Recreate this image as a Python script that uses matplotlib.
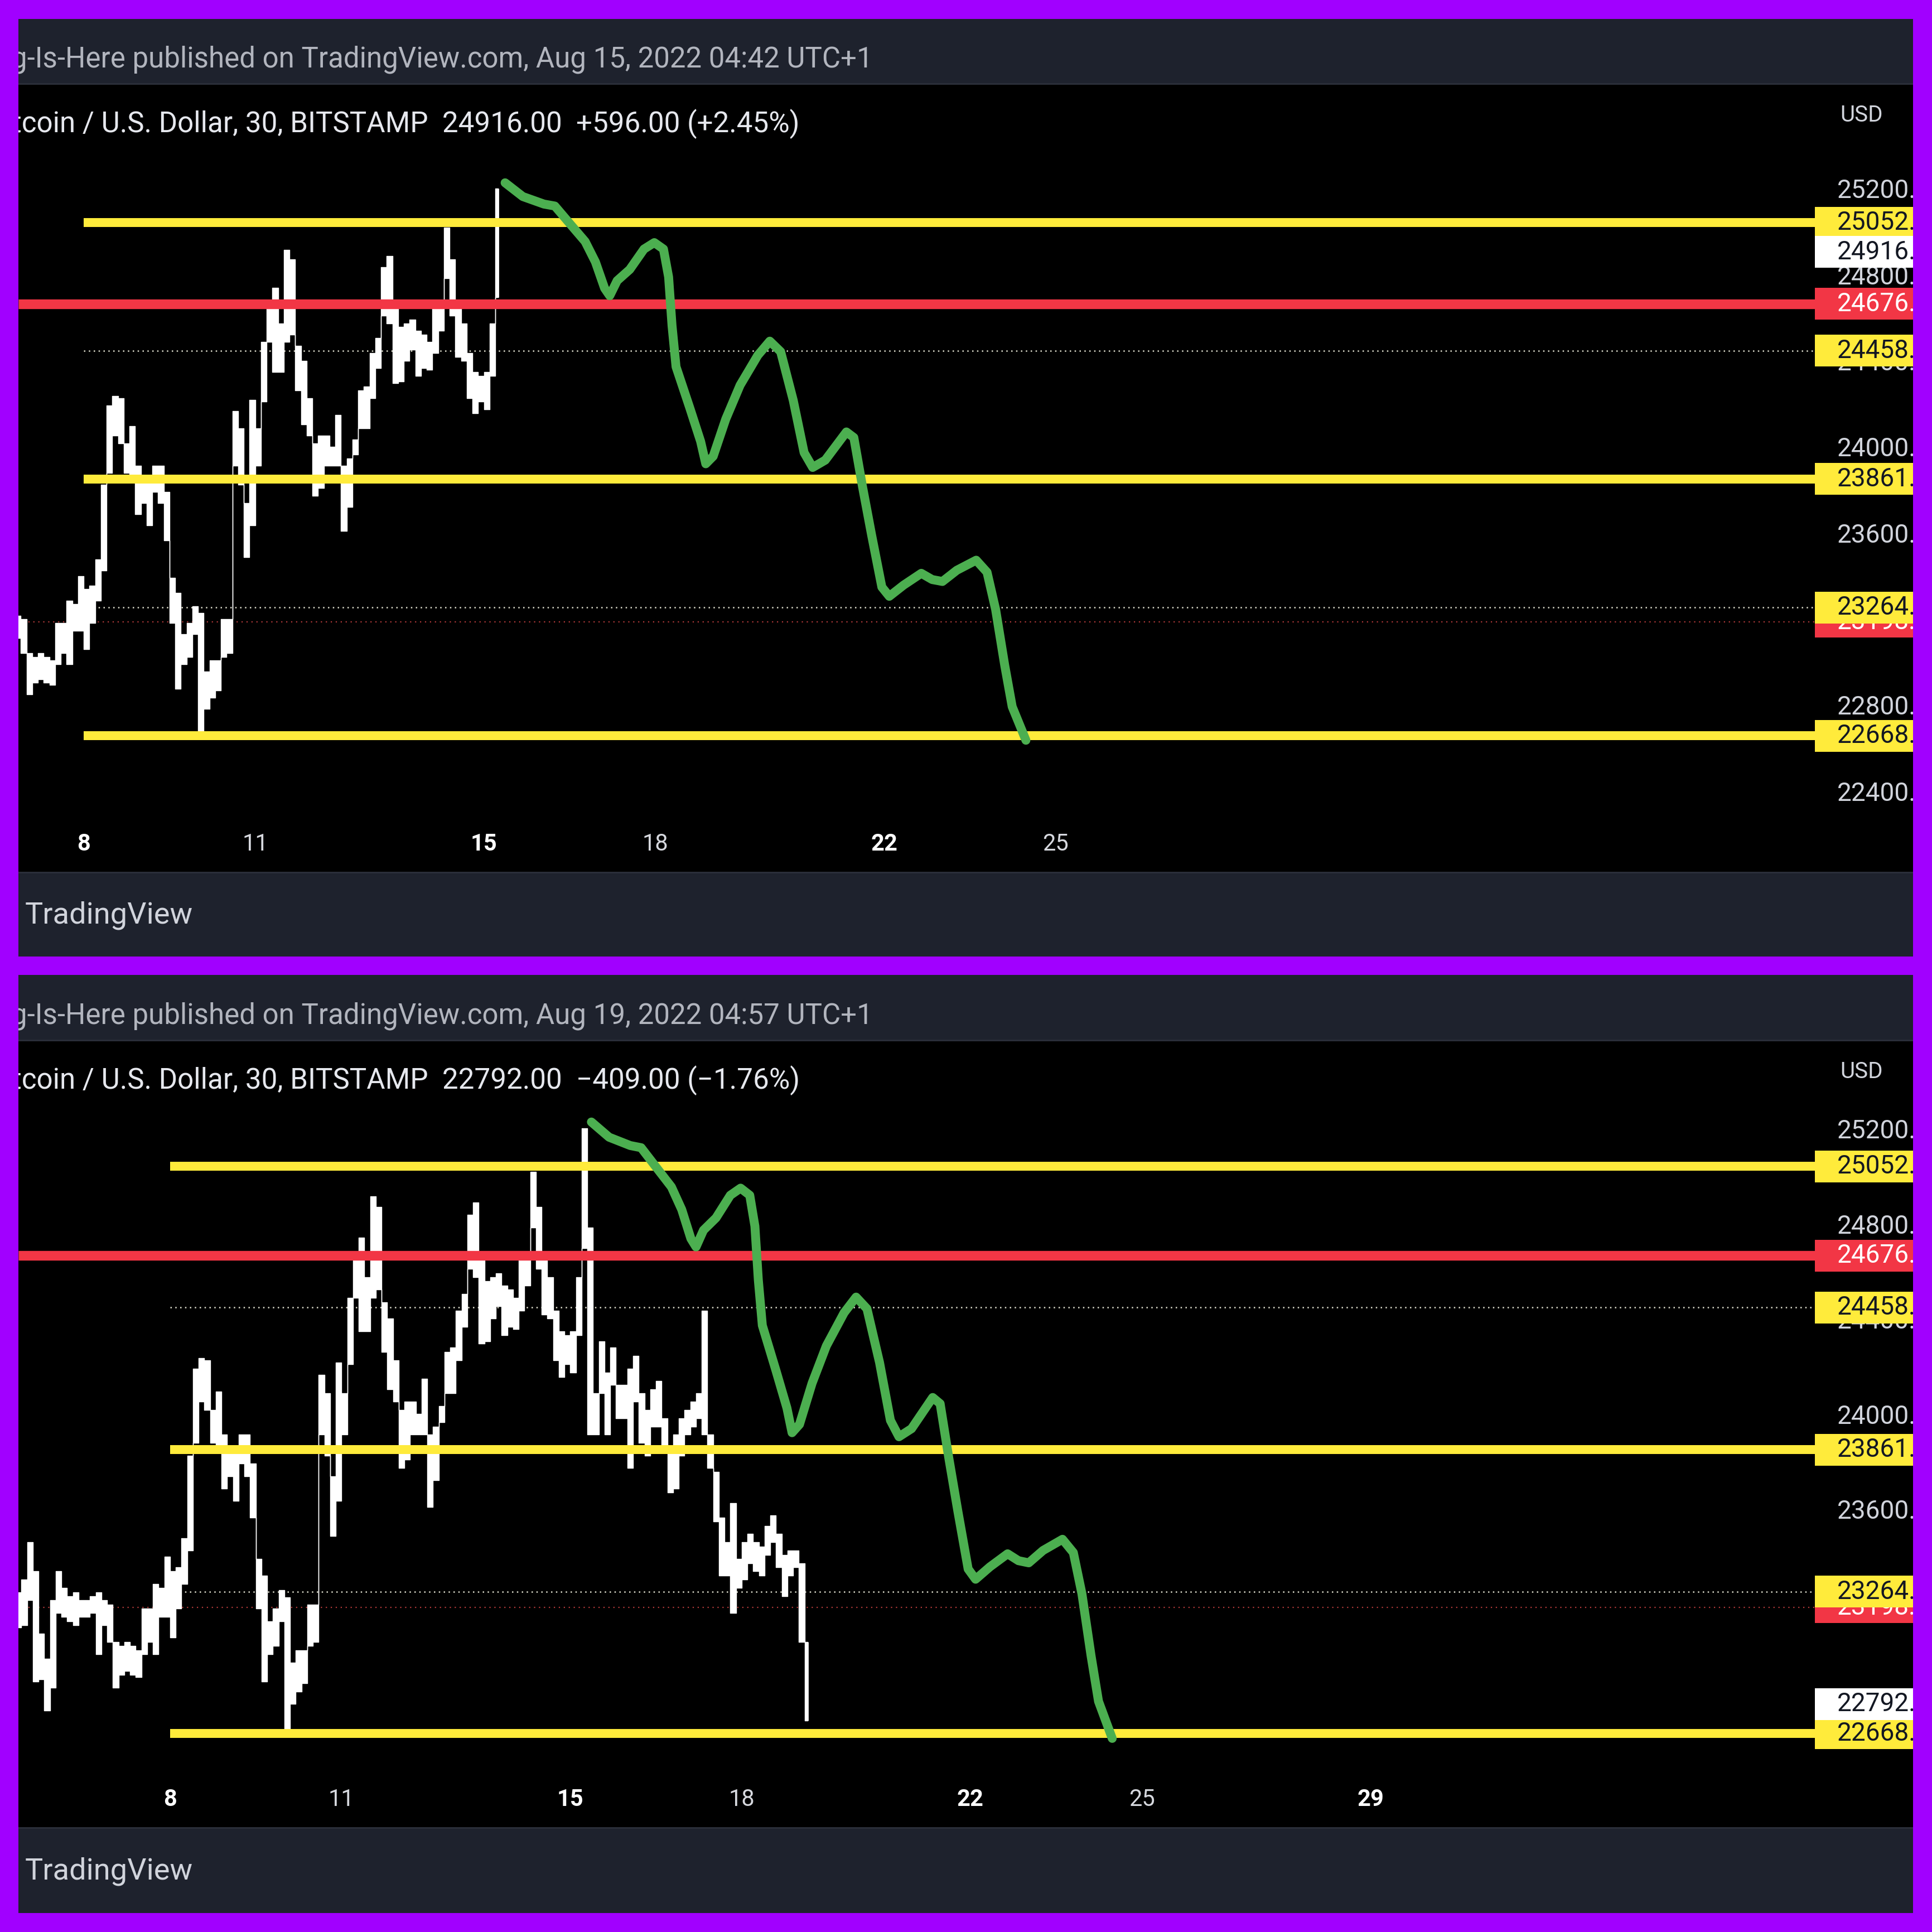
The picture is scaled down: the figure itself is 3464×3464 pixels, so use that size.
import numpy as np
import matplotlib
matplotlib.use("Agg")
import matplotlib.pyplot as plt
from matplotlib.patches import Rectangle
import matplotlib.transforms as mtransforms

# ---------------- data ----------------
# BTC/USD 30m chart, sampled every 0.1 day: highs / lows of the candle band
candle_t0 = 5.35
candle_dt = 0.1
candle_high = [23262, 23314, 23471, 23349, 23088, 22983, 23227, 23349, 23279, 23244,
               23262, 23227, 23227, 23244, 23262, 23227, 23210, 23053, 23035, 23053,
               23035, 23018, 23192, 23192, 23297, 23279, 23410, 23349, 23366, 23488,
               23836, 24202, 24246, 24237, 24028, 24106, 23924, 23871, 23871, 23924,
               23924, 23802, 23401, 23331, 23140, 23192, 23270, 23240, 22966, 23018,
               23018, 23210, 23210, 24176, 24098, 23749, 24228, 24098, 24498, 24655,
               24751, 24585, 24925, 24881, 24481, 24411, 24237, 24028, 24063, 24063,
               24011, 24158, 23924, 23958, 24045, 24272, 24290, 24446, 24516, 24847,
               24899, 24655, 24568, 24585, 24603, 24550, 24533, 24498, 24655, 24672,
               25029, 24881, 24655, 24585, 24446, 24359, 24341, 24359, 24585, 25212,
               24794, 24098, 24315, 24185, 24289, 24132, 24132, 24202, 24254, 24098,
               24028, 24115, 24150, 23993, 23871, 23924, 23993, 24028, 24063, 24098,
               24446, 23924, 23767, 23575, 23471, 23636, 23401, 23471, 23506, 23471,
               23453, 23540, 23584, 23506, 23419, 23436, 23436, 23384, 23053]
candle_low = [23114, 23122, 23227, 22887, 22896, 22765, 22861, 23175, 23157, 23140,
              23122, 23157, 23157, 23175, 23001, 23122, 23053, 22861, 22914, 22931,
              22914, 22905, 23001, 23053, 23001, 23157, 23157, 23070, 23192, 23297,
              23436, 23889, 24063, 24028, 23889, 23871, 23697, 23749, 23645, 23802,
              23749, 23575, 23192, 22887, 23001, 23035, 23140, 22670, 22792, 22844,
              22879, 23035, 23053, 23924, 23836, 23497, 23645, 23924, 24220, 24498,
              24359, 24359, 24498, 24533, 24272, 24115, 24063, 23784, 23819, 23924,
              23924, 23924, 23619, 23732, 23976, 24098, 24098, 24237, 24376, 24620,
              24585, 24307, 24315, 24411, 24463, 24341, 24376, 24368, 24446, 24550,
              24794, 24620, 24429, 24411, 24237, 24167, 24220, 24185, 24341, 24707,
              23924, 23924, 24098, 23924, 24132, 23993, 23993, 23784, 24063, 23889,
              23836, 23958, 23958, 23854, 23680, 23697, 23836, 23924, 23958, 23993,
              23924, 23784, 23558, 23331, 23331, 23175, 23279, 23314, 23384, 23349,
              23331, 23419, 23471, 23366, 23244, 23331, 23366, 23053, 22722]

# hand-drawn green projection (day of Aug, price)
green_days = [15.37, 15.68, 16.05, 16.24, 16.49, 16.77, 16.95, 17.11, 17.20, 17.33,
              17.55, 17.80, 17.98, 18.14, 18.23, 18.29, 18.36, 18.60, 18.79, 18.88,
              19.01, 19.23, 19.48, 19.79, 20.00, 20.19, 20.41, 20.60, 20.75, 20.97,
              21.34, 21.47, 21.62, 21.78, 21.96, 22.09, 22.34, 22.65, 22.84, 23.02,
              23.27, 23.61, 23.80, 23.95, 24.11, 24.24, 24.48]
green_prices = [25238, 25174, 25139, 25130, 25052, 24965, 24870, 24748, 24713, 24783,
                24835, 24930, 24960, 24930, 24800, 24574, 24383, 24192, 24036, 23932,
                23967, 24140, 24297, 24436, 24502, 24453, 24227, 23984, 23915, 23949,
                24080, 24054, 23828, 23602, 23359, 23316, 23368, 23423, 23394, 23385,
                23437, 23484, 23428, 23255, 22994, 22803, 22647]

yellow_levels = [25052, 23861, 22668]
red_levels = [24676]
dotted_yellow_levels = [24458, 23264]
dotted_red_levels = [23198]
level_start_day = 8

panel1_ticks = [25200, 24800, 24400, 24000, 23600, 23200, 22800, 22400]
panel2_ticks = [25200, 24800, 24400, 24000, 23600, 23200, 22800]
panel1_days = [8, 11, 15, 18, 22, 25]
panel2_days = [8, 11, 15, 18, 22, 25, 29]
bold_days = [8, 15, 22, 29]
panel1_last = 24916
panel2_last = 22792
panel1_end_day = 15.26

headers = ["g-Is-Here published on TradingView.com, Aug 15, 2022 04:42 UTC+1",
           "g-Is-Here published on TradingView.com, Aug 19, 2022 04:57 UTC+1"]
titles = ["tcoin / U.S. Dollar, 30, BITSTAMP  24916.00  +596.00 (+2.45%)",
          "tcoin / U.S. Dollar, 30, BITSTAMP  22792.00  \u2212409.00 (\u22121.76%)"]

# ---------------- styling / layout ----------------
W = H = 3464
PURPLE = "#a100ff"
DARK = "#1e222d"
SEP = "#2a2e39"
YELLOW = "#ffeb3b"
RED = "#f23645"
GREEN = "#4caf50"
TXT = "#d1d4dc"
FONT = ["Roboto", "DejaVu Sans"]

fig = plt.figure(figsize=(W / 100, H / 100), dpi=100, facecolor=PURPLE)


def frect(x0, y0, x1, y1, color, z):
    fig.add_artist(Rectangle((x0 / W, 1 - y1 / H), (x1 - x0) / W, (y1 - y0) / H,
                             transform=fig.transFigure, facecolor=color,
                             edgecolor="none", lw=0, zorder=z))


def ftext(x, y, s, **kw):
    fig.text(x / W, 1 - y / H, s, family=FONT, **kw)


PL, PR = 33, 3430          # panel left/right pixel
AX_R = 3254                # plot right edge (price scale starts)

panels = [
    dict(header=(34, 152), chart=(152, 1563), footer=(1563, 1715), ax=(152, 1460),
         ylim=(22303, 25693.5), xlim=(6.857, 38.28), ticks=panel1_ticks,
         days=panel1_days, last=panel1_last, end=panel1_end_day,
         head=headers[0], title=titles[0], tlab=1509),
    dict(header=(1748, 1867), chart=(1867, 3276), footer=(3276, 3430), ax=(1867, 3175),
         ylim=(22510.8, 25577.2), xlim=(5.348, 36.77), ticks=panel2_ticks,
         days=panel2_days, last=panel2_last, end=99,
         head=headers[1], title=titles[1], tlab=3223),
]

t_all = np.round(candle_t0 + candle_dt * np.arange(len(candle_high)), 3)
hi_all = np.array(candle_high, float)
lo_all = np.array(candle_low, float)

for P in panels:
    h0, h1 = P["header"]
    c0, c1 = P["chart"]
    f0, f1 = P["footer"]
    frect(PL, h0, PR, h1, DARK, -2)
    frect(PL, c0, PR, c1, "#000000", -2)
    frect(PL, f0, PR, f1, DARK, -2)
    frect(PL, h1 - 3, PR, h1, SEP, -1.5)
    frect(PL, f0, PR, f0 + 3, SEP, -1.5)

    ftext(20, (h0 + h1) / 2 + 14, P["head"], fontsize=36.7, color="#b2b5be", va="center", ha="left")
    ftext(22, c0 + 70, P["title"], fontsize=36.8, color="#e6e8ee", va="center", ha="left")
    ftext(3338, c0 + 54, "USD", fontsize=29, color=TXT, va="center", ha="center")
    ftext(45, (f0 + f1) / 2 + 2, "TradingView", fontsize=39, color="#d1d4dc", va="center", ha="left")

    a0, a1 = P["ax"]
    ax = fig.add_axes([PL / W, 1 - a1 / H, (AX_R - PL) / W, (a1 - a0) / H])
    ax.set_facecolor("none")
    for s in ax.spines.values():
        s.set_visible(False)
    ax.set_xticks([])
    ax.set_yticks([])
    ax.set_xlim(*P["xlim"])
    ax.set_ylim(*P["ylim"])
    ymin, ymax = P["ylim"]
    ax_h_px = a1 - a0
    ax_w_px = AX_R - PL
    xmin, xmax = P["xlim"]

    # levels
    for p in dotted_red_levels:
        ax.hlines(p, xmin, xmax, color="#b23a3a", lw=1.6, linestyles=(0, (1, 3)), zorder=1)
    for p in dotted_yellow_levels:
        ax.hlines(p, level_start_day, xmax, color="#dcdccc", lw=1.8, linestyles=(0, (1, 2.5)), zorder=1)

    # candle band: stepped body plus wicks
    m = t_all <= P["end"]
    tt, lo, hi = t_all[m], lo_all[m], hi_all[m]
    ax.fill_between(tt, lo, hi, step="mid", color="white", edgecolor="white", lw=1.0, zorder=2)
    ax.vlines(tt, lo, hi, color="white", lw=2.0, zorder=2)

    for p in yellow_levels:
        ax.hlines(p, level_start_day, xmax, color=YELLOW, lw=11.5, zorder=3)
    for p in red_levels:
        ax.hlines(p, xmin, xmax, color=RED, lw=12.5, zorder=3)

    ax.plot(green_days, green_prices, color=GREEN, lw=11.5, solid_capstyle="round",
            solid_joinstyle="round", zorder=4)

    # price scale
    trans = mtransforms.blended_transform_factory(ax.transAxes, ax.transData)
    lab_x = 1 + (3294 - AX_R) / ax_w_px
    for p in P["ticks"]:
        ax.text(lab_x, p, f"{p}.00", transform=trans, fontsize=33, family=FONT,
                color=TXT, ha="left", va="center", clip_on=False, zorder=5)

    bh = 57 * (ymax - ymin) / ax_h_px
    bw = (3445 - AX_R) / ax_w_px
    boxes = [(p, YELLOW, "#131722") for p in yellow_levels] + \
            [(p, RED, "#ffffff") for p in red_levels] + \
            [(p, RED, "#ffffff") for p in dotted_red_levels] + \
            [(p, YELLOW, "#131722") for p in dotted_yellow_levels] + \
            [(P["last"], "#ffffff", "#131722")]
    z = 6
    for p, fc, tc in boxes:
        ax.add_patch(Rectangle((1.0, p - bh / 2), bw, bh, transform=trans, facecolor=fc,
                               edgecolor="none", clip_on=False, zorder=z))
        ax.text(lab_x, p, f"{p}.00", transform=trans, fontsize=33, family=FONT,
                color=tc, ha="left", va="center", clip_on=False, zorder=z + 0.1)
        z += 0.2

    # time scale
    ttrans = mtransforms.blended_transform_factory(ax.transData, ax.transAxes)
    ty = 1 - (P["tlab"] + 4 - a0) / ax_h_px
    for d in P["days"]:
        bold = d in bold_days
        ax.text(d, ty, str(d), transform=ttrans, fontsize=30, family=FONT,
                fontweight="bold" if bold else "normal",
                color="#ffffff" if bold else "#d6d8de", ha="center", va="center",
                clip_on=False, zorder=5)

# purple frame on top (clips texts like the screenshot)
frect(0, 0, PL, H, PURPLE, 20)
frect(PR, 0, W, H, PURPLE, 20)
frect(0, 0, W, 34, PURPLE, 20)
frect(0, 1715, W, 1748, PURPLE, 20)
frect(0, 3430, W, H, PURPLE, 20)

fig.savefig("out.png", dpi=100, facecolor=PURPLE)
